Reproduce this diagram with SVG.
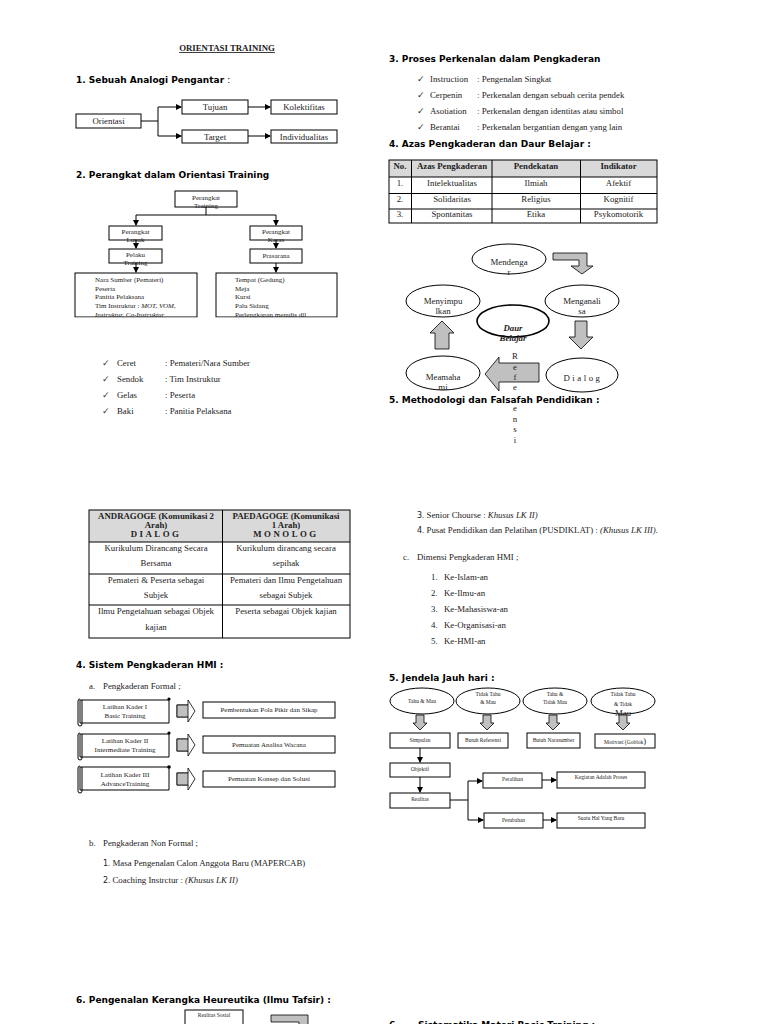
<svg xmlns="http://www.w3.org/2000/svg" width="768" height="1024" viewBox="0 0 768 1024">
<defs>
<style>
.h{font-family:"DejaVu Sans",Verdana,sans-serif;font-weight:bold;font-size:9px;fill:#000}
.s{font-family:"Liberation Serif","Times New Roman",serif;font-size:8.8px;fill:#222}
.sm{font-family:"Liberation Serif","Times New Roman",serif;font-size:7px;fill:#222}
.xs{font-family:"Liberation Serif","Times New Roman",serif;font-size:5.5px;fill:#222}
.c{text-anchor:middle}
.b{font-weight:bold}
.i{font-style:italic}
.ck{font-family:"DejaVu Sans",sans-serif;font-size:9px;fill:#333}
.box{fill:#fff;stroke:#000;stroke-width:1}
.ln{fill:none;stroke:#000;stroke-width:1}
.arw{fill:none;stroke:#000;stroke-width:1;marker-end:url(#ah)}
.blk{fill:#c0c0c0;stroke:#000;stroke-width:0.8}
.hd{fill:#d9d9d9}
</style>
<marker id="ah" markerWidth="6" markerHeight="6" refX="5" refY="3" orient="auto" markerUnits="userSpaceOnUse">
<path d="M0,0 L6,3 L0,6 Z" fill="#000"/>
</marker>
</defs>
<rect width="768" height="1024" fill="#fff"/>

<!-- Title -->
<text class="s b c" x="227" y="51" font-size="8.5" text-decoration="underline">ORIENTASI TRAINING</text>

<!-- Section 1 -->
<text class="h" x="76" y="83">1. Sebuah Analogi Pengantar <tspan font-weight="normal">:</tspan></text>
<g id="orientasi"><rect class="box" x="76" y="114" width="65" height="14"/><text class="s c" x="108.5" y="124">Orientasi</text></g>
<g id="tujuan"><rect class="box" x="182" y="100" width="66" height="14"/><text class="s c" x="215" y="110">Tujuan</text></g>
<g id="kolektifitas"><rect class="box" x="271" y="100" width="66" height="14"/><text class="s c" x="304" y="110">Kolektifitas</text></g>
<g id="target"><rect class="box" x="182" y="130" width="66" height="13"/><text class="s c" x="215" y="140">Target</text></g>
<g id="individualitas"><rect class="box" x="271" y="130" width="66" height="13"/><text class="s c" x="304" y="140">Individualitas</text></g>

<!-- Section 2 -->
<text class="h" x="76" y="178">2. Perangkat dalam Orientasi Training</text>
<g id="perangkat-training"><rect class="box" x="175" y="191" width="62" height="16"/><text class="sm c" x="206" y="200" font-size="6.5">Perangkat</text><text class="sm c" x="206" y="208" font-size="6.5">Training</text></g>
<g id="perangkat-lunak"><rect class="box" x="109" y="226" width="53" height="14"/><text class="sm c" x="135.5" y="234" font-size="6.5">Perangkat</text><text class="sm c" x="135.5" y="242" font-size="6.5">Lunak</text></g>
<g id="perangkat-keras"><rect class="box" x="250" y="226" width="52" height="14"/><text class="sm c" x="276" y="234" font-size="6.5">Perangkat</text><text class="sm c" x="276" y="242" font-size="6.5">Keras</text></g>
<g id="pelaku-training"><rect class="box" x="109" y="249" width="53" height="14"/><text class="sm c" x="135.5" y="257" font-size="6.5">Pelaku</text><text class="sm c" x="135.5" y="265" font-size="6.5">Training</text></g>
<g id="prasarana"><rect class="box" x="250" y="249" width="52" height="14"/><text class="sm c" x="276" y="258" font-size="6.5">Prasarana</text></g>
<g id="lunak-list"><rect class="box" x="75" y="273" width="122" height="44"/>
<text class="sm" x="95" y="282" font-size="6.5">Nara Sumber (Pemateri)</text>
<text class="sm" x="95" y="290.5" font-size="6.5">Peserta</text>
<text class="sm" x="95" y="299" font-size="6.5">Panitia Pelaksana</text>
<text class="sm" x="95" y="307.5" font-size="6.5">Tim Instruktur : <tspan class="i">MOT, VOM,</tspan></text>
<text class="sm i" x="95" y="316.5" font-size="6.5">Instruktur, Co-Instruktur</text></g>
<g id="keras-list"><rect class="box" x="216" y="273" width="121" height="44"/>
<text class="sm" x="235" y="282" font-size="6.5">Tempat (Gedung)</text>
<text class="sm" x="235" y="290.5" font-size="6.5">Meja</text>
<text class="sm" x="235" y="299" font-size="6.5">Kursi</text>
<text class="sm" x="235" y="307.5" font-size="6.5">Palu Sidang</text>
<text class="sm" x="235" y="316.5" font-size="6.5">Perlengkapan menulis dll</text></g>
<rect x="74" y="317.5" width="264" height="4" fill="#fff"/>

<!-- Analogy list -->
<g id="analogi-list">
<text class="ck" x="102" y="366">✓</text><text class="s" x="117" y="366">Ceret</text><text class="s" x="165" y="366">: Pemateri/Nara Sumber</text>
<text class="ck" x="102" y="382">✓</text><text class="s" x="117" y="382">Sendok</text><text class="s" x="165" y="382">: Tim Instruktur</text>
<text class="ck" x="102" y="398">✓</text><text class="s" x="117" y="398">Gelas</text><text class="s" x="165" y="398">: Peserta</text>
<text class="ck" x="102" y="414">✓</text><text class="s" x="117" y="414">Baki</text><text class="s" x="165" y="414">: Panitia Pelaksana</text>
</g>

<!-- Section 3 right -->
<text class="h" x="389" y="62">3. Proses Perkenalan dalam Pengkaderan</text>
<g id="proses-list">
<text class="ck" x="417" y="82">✓</text><text class="s" x="430" y="82">Instruction</text><text class="s" x="477" y="82">: Pengenalan Singkat</text>
<text class="ck" x="417" y="98">✓</text><text class="s" x="430" y="98">Cerpenin</text><text class="s" x="477" y="98">: Perkenalan dengan sebuah cerita pendek</text>
<text class="ck" x="417" y="114">✓</text><text class="s" x="430" y="114">Asotiation</text><text class="s" x="477" y="114">: Perkenalan dengan identitas atau simbol</text>
<text class="ck" x="417" y="130">✓</text><text class="s" x="430" y="130">Berantai</text><text class="s" x="477" y="130">: Perkenalan bergantian dengan yang lain</text>
</g>
<text class="h" x="389" y="147">4. Azas Pengkaderan dan Daur Belajar :</text>

<g id="azas-table">
<rect x="389" y="160" width="268" height="17" class="hd"/>
<rect x="389" y="160" width="268" height="63" class="ln"/>
<line class="ln" x1="411.5" y1="160" x2="411.5" y2="223"/>
<line class="ln" x1="492" y1="160" x2="492" y2="223"/>
<line class="ln" x1="580.5" y1="160" x2="580.5" y2="223"/>
<line class="ln" x1="389" y1="177" x2="657" y2="177"/>
<line class="ln" x1="389" y1="193.5" x2="657" y2="193.5"/>
<line class="ln" x1="389" y1="209" x2="657" y2="209"/>
<text class="s b c" x="400" y="169">No.</text><text class="s b c" x="452" y="169">Azas Pengkaderan</text><text class="s b c" x="536" y="169">Pendekatan</text><text class="s b c" x="618.5" y="169">Indikator</text>
<text class="s c" x="400" y="186">1.</text><text class="s c" x="452" y="186">Intelektualitas</text><text class="s c" x="536" y="186">Ilmiah</text><text class="s c" x="618.5" y="186">Afektif</text>
<text class="s c" x="400" y="202">2.</text><text class="s c" x="452" y="202">Solidaritas</text><text class="s c" x="536" y="202">Religius</text><text class="s c" x="618.5" y="202">Kognitif</text>
<text class="s c" x="400" y="217">3.</text><text class="s c" x="452" y="217">Spontanitas</text><text class="s c" x="536" y="217">Etika</text><text class="s c" x="618.5" y="217">Psykomotorik</text>
</g>

<!-- Daur Belajar -->
<g id="daur-arrows">
<path class="blk" d="M553,253 L587,253 L587,266 L593,266 L582,274 L571,266 L579,266 L579,260 L553,260 Z"/>
<path class="blk" d="M575,321 L587,321 L587,337 L593,337 L581,349 L569,337 L575,337 Z"/>
<path class="blk" d="M539,363 L539,382 L499,382 L499,391 L485,374 L499,357 L499,363 Z"/>
<path class="blk" d="M435,349 L449,349 L449,333 L454,333 L442,321 L430,333 L435,333 Z"/>
</g>
<g id="mendengar"><ellipse class="box" cx="509" cy="259" rx="37" ry="15"/><text class="s c" x="509" y="265" font-size="9">Mendenga</text><text class="s c" x="509" y="275" font-size="9">r</text></g>
<g id="menganalisa"><ellipse class="box" cx="582" cy="301" rx="37" ry="16"/><text class="s c" x="582" y="304" font-size="9">Menganali</text><text class="s c" x="582" y="314" font-size="9">sa</text></g>
<g id="dialog"><ellipse class="box" cx="582" cy="375" rx="36" ry="17"/><text class="s c" x="583" y="381" font-size="9" letter-spacing="2.5">Dialog</text></g>
<g id="meamahami"><ellipse class="box" cx="443" cy="373" rx="37" ry="17"/><text class="s c" x="443" y="380" font-size="9">Meamaha</text><text class="s c" x="443" y="390" font-size="9">mi</text></g>
<g id="menyimpulkan"><ellipse class="box" cx="443" cy="301" rx="37" ry="16"/><text class="s c" x="443" y="304" font-size="9">Menyimpu</text><text class="s c" x="443" y="314" font-size="9">lkan</text></g>
<g id="daur-belajar"><ellipse cx="513" cy="321" rx="36" ry="16" fill="#fff" stroke="#000" stroke-width="1.6"/><text class="s c b i" x="513" y="331" font-size="9">Daur</text><text class="s c b i" x="513" y="341" font-size="8.5">Belajar</text></g>
<g id="referensi" class="s c" font-size="8.5">
<text x="515" y="359">R</text><text x="515" y="370">e</text><text x="515" y="380">f</text><text x="515" y="390">e</text><text x="515" y="411">e</text><text x="515" y="422">n</text><text x="515" y="432">s</text><text x="515" y="443">i</text>
</g>
<text class="h" x="389" y="403">5. Methodologi dan Falsafah Pendidikan :</text>

<!-- Andragoge table -->
<g id="andragoge-table">
<rect x="89" y="510" width="261" height="32" class="hd"/>
<rect x="89" y="510" width="261" height="128" class="ln"/>
<line class="ln" x1="222.5" y1="510" x2="222.5" y2="638"/>
<line class="ln" x1="89" y1="542" x2="350" y2="542"/>
<line class="ln" x1="89" y1="574" x2="350" y2="574"/>
<line class="ln" x1="89" y1="605" x2="350" y2="605"/>
<text class="s b c" x="156" y="519">ANDRAGOGE (Komunikasi 2</text><text class="s b c" x="156" y="528">Arah)</text><text class="s b c" x="156" y="537" letter-spacing="2.5">DIALOG</text>
<text class="s b c" x="286" y="519">PAEDAGOGE (Komunikasi</text><text class="s b c" x="286" y="528">1 Arah)</text><text class="s b c" x="286" y="537" letter-spacing="2.5">MONOLOG</text>
<text class="s c" x="156" y="551">Kurikulum Dirancang Secara</text><text class="s c" x="156" y="566">Bersama</text>
<text class="s c" x="286" y="551">Kurikulum dirancang secara</text><text class="s c" x="286" y="566">sepihak</text>
<text class="s c" x="156" y="583">Pemateri &amp; Peserta sebagai</text><text class="s c" x="156" y="598">Subjek</text>
<text class="s c" x="286" y="583">Pemateri dan Ilmu Pengetahuan</text><text class="s c" x="286" y="598">sebagai Subjek</text>
<text class="s c" x="156" y="614">Ilmu Pengetahuan sebagai Objek</text><text class="s c" x="156" y="630">kajian</text>
<text class="s c" x="286" y="614">Peserta sebagai Objek kajian</text>
</g>

<!-- Right middle list -->
<g id="pusdiklat-list">
<text class="s" x="417" y="518"><tspan font-family="DejaVu Sans,sans-serif" font-size="8">3</tspan>.  Senior Chourse : <tspan class="i">Khusus LK II)</tspan></text>
<text class="s" x="417" y="533"><tspan font-family="DejaVu Sans,sans-serif" font-size="8">4</tspan>.  Pusat Pendidikan dan Pelatihan (PUSDIKLAT) : <tspan class="i">(Khusus LK III).</tspan></text>
<text class="s" x="403" y="560">c.</text><text class="s" x="417" y="560">Dimensi Pengkaderan HMI ;</text>
<text class="s" x="431" y="580">1.</text><text class="s" x="444" y="580">Ke-Islam-an</text>
<text class="s" x="431" y="596">2.</text><text class="s" x="444" y="596">Ke-Ilmu-an</text>
<text class="s" x="431" y="612">3.</text><text class="s" x="444" y="612">Ke-Mahasiswa-an</text>
<text class="s" x="431" y="628">4.</text><text class="s" x="444" y="628">Ke-Organisasi-an</text>
<text class="s" x="431" y="644">5.</text><text class="s" x="444" y="644">Ke-HMI-an</text>
</g>

<!-- Section 4 Sistem Pengkaderan -->
<text class="h" x="76" y="668">4. Sistem Pengkaderan HMI :</text>
<text class="s" x="89" y="689">a.</text><text class="s" x="103" y="689">Pengkaderan Formal ;</text>

<g id="lk1">
<path class="box" d="M80,700 H169 V723 H80 Z"/>
<path class="ln" d="M80,699 Q78,699 78,701 V724 Q78,726 80,726 Q82,726 82,724 V700"/>
<circle cx="169" cy="699" r="1.6" fill="#000"/>
<text class="sm c" x="125" y="709">Latihan Kader I</text><text class="sm c" x="125" y="717.5">Basic Training</text>
</g>
<g id="lk2">
<path class="box" d="M80,734 H169 V757 H80 Z"/>
<path class="ln" d="M80,733 Q78,733 78,735 V758 Q78,760 80,760 Q82,760 82,758 V734"/>
<circle cx="169" cy="733" r="1.6" fill="#000"/>
<text class="sm c" x="125" y="743">Latihan Kader II</text><text class="sm c" x="125" y="751.5">Intermediate Training</text>
</g>
<g id="lk3">
<path class="box" d="M80,767 H169 V790 H80 Z"/>
<path class="ln" d="M80,766 Q78,766 78,768 V791 Q78,793 80,793 Q82,793 82,791 V767"/>
<circle cx="169" cy="767" r="1.8" fill="#000"/>
<text class="sm c" x="125" y="777">Latihan Kader III</text><text class="sm c" x="125" y="785.5">AdvanceTraining</text>
</g>
<g id="block-arrows">
<path d="M177,705 H188 V700 L195,711 L188,722 V717 H177 Z" fill="#fff" stroke="#000" stroke-width="0.8"/>
<rect x="177" y="705" width="11" height="12" fill="#c0c0c0" stroke="#000" stroke-width="0.8"/>
<path d="M177,739 H188 V734 L195,745 L188,756 V751 H177 Z" fill="#fff" stroke="#000" stroke-width="0.8"/>
<rect x="177" y="739" width="11" height="12" fill="#c0c0c0" stroke="#000" stroke-width="0.8"/>
<path d="M177,773 H188 V768 L195,779 L188,790 V785 H177 Z" fill="#fff" stroke="#000" stroke-width="0.8"/>
<rect x="177" y="773" width="11" height="12" fill="#c0c0c0" stroke="#000" stroke-width="0.8"/>
</g>
<g id="pola-pikir"><rect class="box" x="203" y="702" width="132" height="16"/><text class="sm c" x="269" y="712">Pembentukan Pola Pikir dan Sikap</text></g>
<g id="analisa-wacana"><rect class="box" x="203" y="736" width="132" height="17"/><text class="sm c" x="269" y="747">Pemuatan Analisa Wacana</text></g>
<g id="konsep-solusi"><rect class="box" x="203" y="771" width="132" height="16"/><text class="sm c" x="269" y="781">Pemuatan Konsep dan Solusi</text></g>

<!-- Section 5 Jendela -->
<text class="h" x="389" y="681">5. Jendela Jauh hari :</text>
<g id="tahu-mau"><ellipse class="box" cx="422" cy="701" rx="32" ry="13"/><text class="xs c" x="422" y="703">Tahu &amp; Mau</text></g>
<g id="tidak-tahu-mau"><ellipse class="box" cx="488" cy="701" rx="32" ry="13"/><text class="xs c" x="488" y="696">Tidak Tahu</text><text class="xs c" x="488" y="704">&amp; Mau</text></g>
<g id="tahu-tidak-mau"><ellipse class="box" cx="555" cy="701" rx="32" ry="13"/><text class="xs c" x="555" y="696">Tahu &amp;</text><text class="xs c" x="555" y="704">Tidak Mau</text></g>
<g id="tidak-tahu-tidak-mau"><ellipse class="box" cx="623" cy="701" rx="32" ry="13"/><text class="xs c" x="623" y="696">Tidak Tahu</text><text class="xs c" x="623" y="706">&amp; Tidak</text><text class="s c" x="623" y="716">Mau</text></g>
<g id="jendela-down-arrows">
<path class="blk" d="M416,715 h8 v8 h3 l-7,7 l-7,-7 h3 z"/>
<path class="blk" d="M483,715 h8 v8 h3 l-7,7 l-7,-7 h3 z"/>
<path class="blk" d="M549,715 h8 v8 h3 l-7,7 l-7,-7 h3 z"/>
<path class="blk" d="M619,715 h8 v8 h3 l-7,7 l-7,-7 h3 z"/>
</g>
<g id="simpulan"><rect class="box" x="390" y="733" width="60" height="15"/><text class="xs c" x="420" y="742">Simpulan</text></g>
<g id="butuh-referensi"><rect class="box" x="458" y="733" width="50" height="15"/><text class="xs c" x="483" y="742">Butuh Referensi</text></g>
<g id="butuh-narasumber"><rect class="box" x="527" y="733" width="53" height="15"/><text class="xs c" x="553.5" y="742">Butuh Narasumber</text></g>
<g id="motivasi"><rect class="box" x="595" y="734" width="60" height="14"/><text class="xs c" x="625" y="744">Motivasi (Goblok<tspan font-size="8.5">)</tspan></text></g>
<g id="objektif"><rect class="box" x="390" y="763" width="60" height="14"/><text class="xs c" x="420" y="771">Objektif</text></g>
<g id="realitas"><rect class="box" x="390" y="793" width="60" height="15"/><text class="xs c" x="420" y="801">Realitas</text></g>
<g id="peralihan"><rect class="box" x="483" y="773" width="59" height="15"/><text class="xs c" x="512.5" y="781">Peralihan</text></g>
<g id="kegiatan-proses"><rect class="box" x="557" y="772" width="88" height="16"/><text class="xs c" x="601" y="779">Kegiatan Adalah Proses</text></g>
<g id="perubahan"><rect class="box" x="484" y="813" width="59" height="15"/><text class="xs c" x="513.5" y="822">Perubahan</text></g>
<g id="suatu-hal"><rect class="box" x="557" y="813" width="88" height="15"/><text class="xs c" x="601" y="820">Suatu Hal Yang Baru</text></g>

<!-- Section b -->
<text class="s" x="89" y="846">b.</text><text class="s" x="103" y="846">Pengkaderan Non Formal ;</text>
<text class="s" x="103" y="866"><tspan font-family="DejaVu Sans,sans-serif" font-size="8">1</tspan>.  Masa Pengenalan Calon Anggota Baru (MAPERCAB)</text>
<text class="s" x="103" y="883"><tspan font-family="DejaVu Sans,sans-serif" font-size="8">2</tspan>.  Coaching Instrctur : <tspan class="i">(Khusus LK II)</tspan></text>

<!-- Section 6 -->
<text class="h" x="76" y="1003">6. Pengenalan Kerangka Heureutika (Ilmu Tafsir) :</text>
<g id="realitas-sosial"><rect class="box" x="185" y="1010" width="58" height="20"/><text class="xs c" x="214" y="1017" font-size="5">Realitas Sosial</text></g>
<path class="blk" d="M271,1015 H308 V1030 H299 V1022 H271 Z"/>
<text class="h" x="389" y="1028">6.<tspan x="418">Sistematika Materi Basic Training :</tspan></text>

<!-- Connectors -->
<g id="connectors">
<path class="ln" d="M141,121 H158 M158,107 V136"/>
<path class="arw" d="M158,107 H181"/>
<path class="arw" d="M158,136 H181"/>
<path class="arw" d="M248,107 H270"/>
<path class="arw" d="M248,136 H270"/>
<path class="ln" d="M206,207 V215 M136,215 H276"/>
<path class="arw" d="M136,215 V225"/>
<path class="arw" d="M276,215 V225"/>
<path class="arw" d="M136,240 V248"/>
<path class="arw" d="M276,240 V248"/>
<path class="arw" d="M136,263 V272"/>
<path class="arw" d="M276,263 V272"/>
<path class="arw" d="M420,748 V762"/>
<path class="arw" d="M420,777 V792"/>
<path class="ln" d="M450,800 H468 M468,781 V820"/>
<path class="arw" d="M468,781 H482"/>
<path class="arw" d="M468,820 H483"/>
<path class="arw" d="M542,780 H556"/>
<path class="arw" d="M543,820 H556"/>
</g>
</svg>
